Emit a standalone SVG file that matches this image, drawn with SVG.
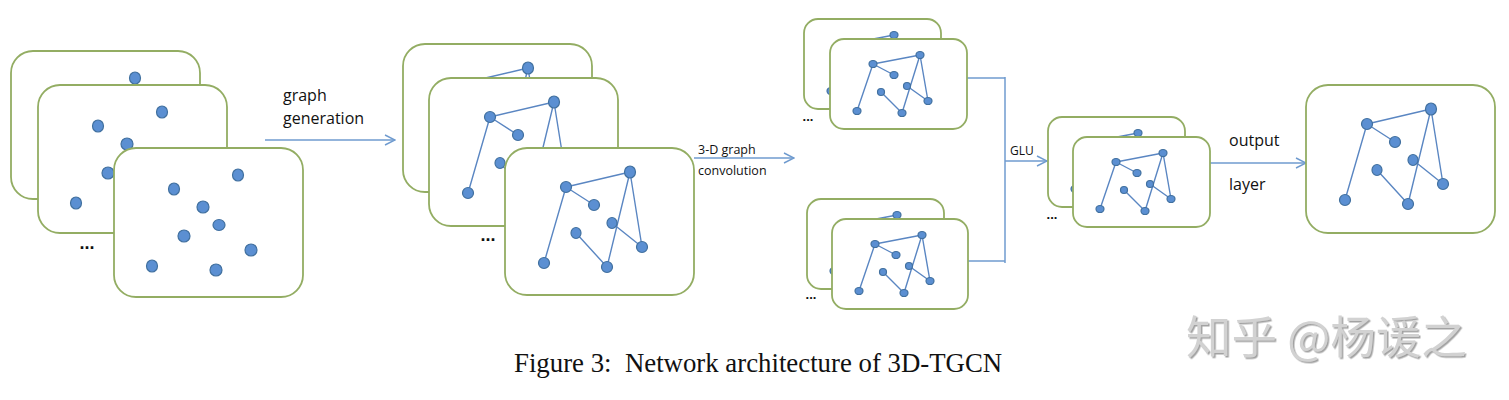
<svg xmlns="http://www.w3.org/2000/svg" xmlns:xlink="http://www.w3.org/1999/xlink" width="1509" height="400" viewBox="0 0 1509 400">
<style>
.card{fill:#fff;stroke:#93ad63;stroke-width:1.8}
.nd{fill:#5b8fd2;stroke:#41709f;stroke-width:1.2}
.ed{stroke:#5a86c2;stroke-width:1.4;fill:none}
.cn{stroke:#6f9bcf;stroke-width:1.5;fill:none}
.lbl{font-family:"Open Sans","Liberation Sans",sans-serif;fill:#111}
.dots{font-family:"Liberation Sans",sans-serif;font-weight:bold;fill:#111;text-anchor:middle}
.cap{font-family:"Liberation Serif",serif;font-size:26.8px;fill:#111}
.wm{font-family:"Noto Sans CJK SC",sans-serif;font-size:45.5px;fill:#d2d2d2}
</style>
<defs>
<marker id="ah" markerWidth="12" markerHeight="12" refX="11" refY="6" orient="auto" markerUnits="userSpaceOnUse">
<path d="M1,1 L11,6 L1,11" fill="none" stroke="#6f9bcf" stroke-width="1.4"/>
</marker>
<filter id="sh" x="-5%" y="-5%" width="110%" height="120%">
<feDropShadow dx="1.5" dy="1.5" stdDeviation="0.6" flood-color="#8a8a8a" flood-opacity="0.8"/>
</filter>
<g id="pts">
<ellipse class="nd" cx="124" cy="27" rx="5.5" ry="6"/>
<ellipse class="nd" cx="60" cy="41" rx="5.5" ry="6"/>
<ellipse class="nd" cx="89" cy="59" rx="6" ry="6"/>
<ellipse class="nd" cx="105" cy="77" rx="6" ry="5.5"/>
<ellipse class="nd" cx="70" cy="88" rx="6" ry="6"/>
<ellipse class="nd" cx="137" cy="102" rx="6" ry="6"/>
<ellipse class="nd" cx="38" cy="118" rx="5.5" ry="6"/>
<ellipse class="nd" cx="102" cy="122" rx="6" ry="6"/>
</g>
<g id="gL">
<path class="ed" d="M61,39 L125,24 M61,39 L89,57 M61,39 L39,115 M125,24 L102,119 M125,24 L137,99 M71,85 L102,119 M107,75 L137,99"/>
<ellipse class="nd" cx="61" cy="39" rx="5.5" ry="5.5"/>
<ellipse class="nd" cx="125" cy="24" rx="5.5" ry="6"/>
<ellipse class="nd" cx="89" cy="57" rx="5.5" ry="5.5"/>
<ellipse class="nd" cx="39" cy="115" rx="5.5" ry="5.5"/>
<ellipse class="nd" cx="71" cy="85" rx="5" ry="5.5"/>
<ellipse class="nd" cx="102" cy="119" rx="5.5" ry="5.5"/>
<ellipse class="nd" cx="107" cy="75" rx="5" ry="5.5"/>
<ellipse class="nd" cx="137" cy="99" rx="5.5" ry="5.5"/>
</g>
<g id="gS">
<path class="ed" d="M43,25 L90,16 M43,25 L64,36 M43,25 L27,72 M90,16 L72,74 M90,16 L98,62 M51,53 L72,74 M77,47 L98,62" stroke-width="1.2"/>
<ellipse class="nd" cx="43" cy="25" rx="4" ry="3.5"/>
<ellipse class="nd" cx="90" cy="16" rx="4" ry="3.5"/>
<ellipse class="nd" cx="64" cy="36" rx="4" ry="3.5"/>
<ellipse class="nd" cx="27" cy="72" rx="4" ry="3.5"/>
<ellipse class="nd" cx="51" cy="53" rx="3.5" ry="3.5"/>
<ellipse class="nd" cx="72" cy="74" rx="4" ry="3.5"/>
<ellipse class="nd" cx="77" cy="47" rx="3.5" ry="3.5"/>
<ellipse class="nd" cx="98" cy="62" rx="4" ry="3.5"/>
</g>
</defs>
<rect width="1509" height="400" fill="#fff"/>

<g id="connectors">
<line class="cn" x1="265" y1="140" x2="395" y2="140" marker-end="url(#ah)"/>
<line class="cn" x1="694" y1="158" x2="794" y2="158" marker-end="url(#ah)"/>
<polyline class="cn" points="967,78 1005,78"/>
<polyline class="cn" points="968,261 1005,261"/>
<line class="cn" x1="1005" y1="77" x2="1005" y2="263"/>
<line class="cn" x1="1005" y1="161" x2="1047" y2="161" marker-end="url(#ah)"/>
<line class="cn" x1="1210" y1="163" x2="1306" y2="163" marker-end="url(#ah)"/>
</g>

<g id="input-stack">
<g transform="translate(11,51)"><rect class="card" width="189" height="148" rx="22"/><use xlink:href="#pts"/></g>
<g transform="translate(38,85)"><rect class="card" width="189" height="148" rx="22"/><use xlink:href="#pts"/></g>
<g transform="translate(114,148)"><rect class="card" width="189" height="149" rx="22"/><use xlink:href="#pts"/></g>
<text class="dots" x="87" y="249" font-size="18">...</text>
</g>

<g id="graph-stack">
<g transform="translate(403,44)"><rect class="card" width="189" height="148" rx="22"/><use xlink:href="#gL"/></g>
<g transform="translate(429,78)"><rect class="card" width="189" height="148" rx="22"/><use xlink:href="#gL"/></g>
<g transform="translate(505,148)"><rect class="card" width="189" height="147" rx="22"/><use xlink:href="#gL"/></g>
<text class="dots" x="488" y="241" font-size="18">...</text>
</g>

<g id="conv-stack-top">
<g transform="translate(804,19)"><rect class="card" width="137" height="90" rx="14"/><use xlink:href="#gS"/></g>
<g transform="translate(830,39)"><rect class="card" width="137" height="90" rx="14"/><use xlink:href="#gS"/></g>
<text class="dots" x="808" y="121" font-size="13">...</text>
</g>

<g id="conv-stack-bottom">
<g transform="translate(807,199)"><rect class="card" width="137" height="90" rx="14"/><use xlink:href="#gS"/></g>
<g transform="translate(832,219)"><rect class="card" width="136" height="90" rx="14"/><use xlink:href="#gS"/></g>
<text class="dots" x="811" y="299" font-size="13">...</text>
</g>

<g id="glu-stack">
<g transform="translate(1048,117)"><rect class="card" width="137" height="90" rx="14"/><use xlink:href="#gS"/></g>
<g transform="translate(1073,137)"><rect class="card" width="137" height="90" rx="14"/><use xlink:href="#gS"/></g>
<text class="dots" x="1052" y="219" font-size="13">...</text>
</g>

<g id="output-graph">
<g transform="translate(1306,85)"><rect class="card" width="189" height="148" rx="22"/><use xlink:href="#gL"/></g>
</g>

<g id="labels">
<text class="lbl" x="283" y="101" font-size="16">graph</text>
<text class="lbl" x="283" y="124" font-size="16">generation</text>
<text class="lbl" x="698" y="154" font-size="12.5">3-D graph</text>
<text class="lbl" x="698" y="175" font-size="12.5">convolution</text>
<text class="lbl" x="1010" y="155" font-size="12">GLU</text>
<text class="lbl" x="1229" y="146" font-size="16">output</text>
<text class="lbl" x="1229" y="190" font-size="16">layer</text>
</g>

<text class="cap" x="514" y="372" xml:space="preserve">Figure 3:  Network architecture of 3D-TGCN</text>
<text class="wm" x="1186" y="354" filter="url(#sh)">知乎 @杨谖之</text>
</svg>
